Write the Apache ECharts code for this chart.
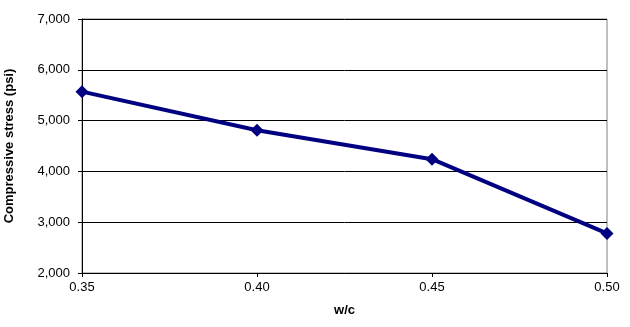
<!DOCTYPE html>
<html><head><meta charset="utf-8">
<script src="https://cdn.jsdelivr.net/npm/echarts@6/dist/echarts.min.js"></script>
<style>html,body{margin:0;padding:0;background:#fff}#c{width:630px;height:327px}</style>
</head><body><div id="c"></div>
<script>
const wcRatios = [0.35, 0.40, 0.45, 0.50];
const stressPsi = [5570, 4810, 4240, 2780];
const yTicks = [2000, 3000, 4000, 5000, 6000, 7000];

const chart = echarts.init(document.getElementById('c'));
const font = 'Liberation Sans, Arial, sans-serif';
chart.setOption({
  animation: false,
  backgroundColor: '#fff',
  grid: {left: 82, right: 23, top: 19, bottom: 54, show: true, borderColor: '#808080', borderWidth: 1,
    containLabel: false, outerBoundsMode: 'none'},
  xAxis: {
    type: 'value', min: wcRatios[0], max: wcRatios[wcRatios.length-1], interval: 0.05,
    name: 'w/c', nameLocation: 'middle', nameGap: 31,
    nameTextStyle: {fontFamily: font, fontWeight: 'bold', fontSize: 13, color: '#000'},
    axisLine: {lineStyle: {color: '#000', width: 1}},
    axisTick: {show: true, length: 4, lineStyle: {color: '#000'}},
    axisLabel: {fontFamily: font, fontSize: 13, color: '#000', margin: 8, formatter: v => v.toFixed(2)},
    splitLine: {show: false}
  },
  yAxis: {
    type: 'value', min: yTicks[0], max: yTicks[yTicks.length-1], interval: 1000,
    name: 'Compressive stress (psi)', nameLocation: 'middle', nameGap: 66,
    nameTextStyle: {fontFamily: font, fontWeight: 'bold', fontSize: 13, color: '#000'},
    axisLine: {show: true, lineStyle: {color: '#000', width: 1}},
    axisTick: {show: true, length: 4, lineStyle: {color: '#000'}},
    axisLabel: {fontFamily: font, fontSize: 13, color: '#000', margin: 12,
      formatter: v => v.toLocaleString('en-US')},
    splitLine: {show: true, lineStyle: {color: '#000', width: 1}}
  },
  series: [{
    type: 'line',
    data: wcRatios.map((x, i) => [x, stressPsi[i]]),
    symbol: 'diamond', symbolSize: 13,
    lineStyle: {color: '#000080', width: 4},
    itemStyle: {color: '#000080'}
  }]
});
</script></body></html>
